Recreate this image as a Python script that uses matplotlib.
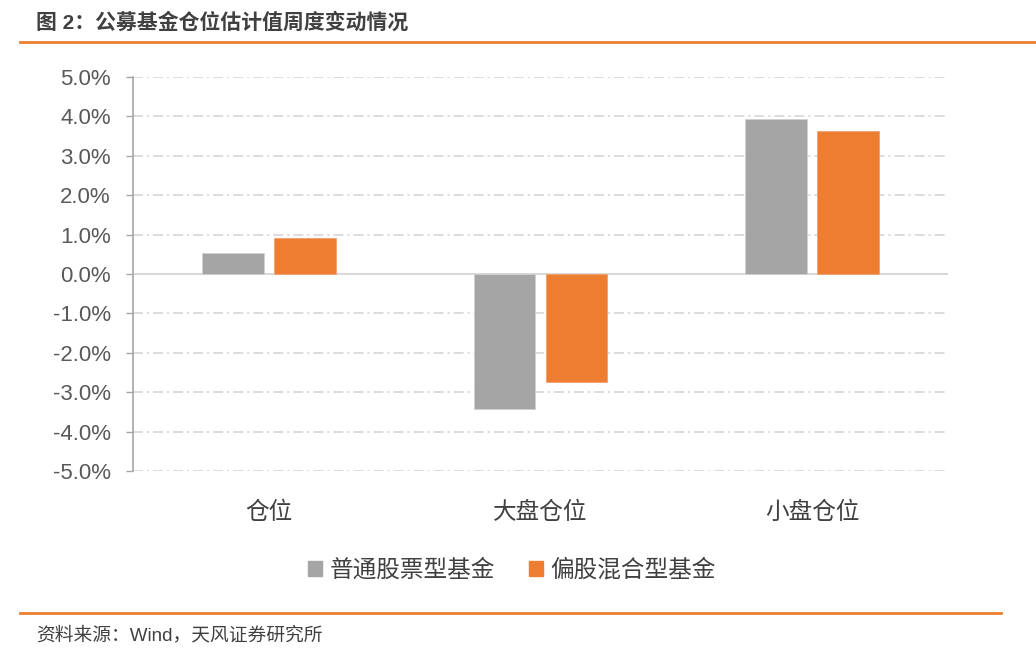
import numpy as np
import matplotlib.pyplot as plt
from matplotlib.patches import Patch

plt.rcParams['font.family'] = ['Liberation Sans', 'Noto Sans CJK SC']
plt.rcParams['axes.unicode_minus'] = False

# 周度变动 (%)
categories = ['仓位', '大盘仓位', '小盘仓位']
stock_fund = [0.54, -3.43, 3.94]   # 普通股票型基金
mixed_fund = [0.92, -2.73, 3.63]   # 偏股混合型基金
series_names = ['普通股票型基金', '偏股混合型基金']
yticks = np.arange(-5, 5.01, 1.0)

gray = '#a5a5a5'
orange = '#ed7d31'
text_c = '#595959'

fig = plt.figure(figsize=(10.36, 6.56), dpi=100)
ax = fig.add_axes([0.1284, 0.282, 0.7866, 0.6006])

x = np.arange(len(categories))
w = 0.228
ax.bar(x - 0.1325, stock_fund, w, color=gray, edgecolor='#d0d0d0', lw=0.6, zorder=3)
ax.bar(x + 0.1325, mixed_fund, w, color=orange, edgecolor='#f2a070', lw=0.6, zorder=3)

ax.set_xlim(-0.5, 2.5)
ax.set_ylim(-5, 5)
ax.set_yticks(yticks)
ax.set_yticklabels(['%.1f%%' % v for v in yticks], fontsize=16, color=text_c)
ax.set_xticks(x)
ax.set_xticklabels(categories, fontsize=17, color='#404040')
ax.tick_params(axis='x', length=0, pad=22)
ax.tick_params(axis='y', length=5, width=1, color='#a6a6a6', pad=11)

ax.grid(axis='y', color='#d9d9d9', lw=1.3, linestyle=(0, (5.5, 2.2, 1.2, 2.2)), zorder=0)
ax.axhline(0, color='#d9d9d9', lw=1.5, zorder=2)
for s in ['top', 'right', 'bottom']:
    ax.spines[s].set_visible(False)
ax.spines['left'].set_color('#a6a6a6')
ax.spines['left'].set_linewidth(1.2)

handles = [Patch(color=gray), Patch(color=orange)]
fig.legend(handles, series_names, loc='center', bbox_to_anchor=(0.494, 0.131),
           ncol=2, frameon=False, fontsize=17, handlelength=0.6, handleheight=0.6,
           handletextpad=0.3, columnspacing=1.45, labelcolor='#404040')

fig.text(0.035, 0.966, '图 2：公募基金仓位估计值周度变动情况', fontsize=15,
         fontweight='bold', color='#404040', va='center')
fig.add_artist(plt.Line2D([0.019, 1.0], [0.936, 0.936], color=orange, lw=2))
fig.add_artist(plt.Line2D([0.019, 0.966], [0.066, 0.066], color=orange, lw=2))
fig.text(0.035, 0.032, '资料来源：Wind，天风证券研究所', fontsize=13.5,
         color='#404040', va='center')

fig.savefig('out.png', dpi=100)
